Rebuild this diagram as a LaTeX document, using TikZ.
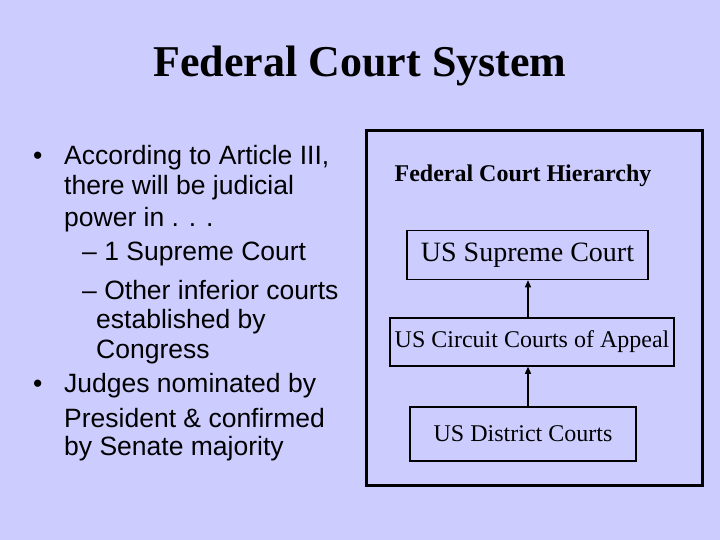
\documentclass[tikz,border=0pt]{standalone}
\usepackage{fontspec}
\setmainfont{Liberation Serif}
\newfontfamily\bodyfont{Liberation Sans}
\usetikzlibrary{arrows.meta}
\definecolor{bg}{RGB}{204,204,255}
\begin{document}
\begin{tikzpicture}[x=1pt,y=-1pt,
  court/.style={draw=black,line width=1.5pt,minimum height=49pt,inner sep=0pt},
  btxt/.style={anchor=west,inner sep=0pt,font=\bodyfont\fontsize{26.5}{26.5}\selectfont}]
\fill[bg] (0,0) rectangle (720,540);
\useasboundingbox (0,0) rectangle (720,540);
\node[font=\bfseries\fontsize{44}{44}\selectfont] (title) at (360,66) {Federal Court System};
\node[btxt] (b1) at (33,158) {•};
\node[btxt] (l1) at (64,158) {According to Article III,};
\node[btxt] (l2) at (64,188) {there will be judicial};
\node[btxt] (l3) at (64,220) {power in . . .};
\node[btxt] (l4) at (82,254) {– 1 Supreme Court};
\node[btxt] (l5) at (82,290) {– Other inferior courts};
\node[btxt] (l6) at (96,322) {established by};
\node[btxt] (l7) at (96,352) {Congress};
\node[btxt] (b2) at (33,386) {•};
\node[btxt] (l8) at (64,386) {Judges nominated by};
\node[btxt] (l9) at (64,418) {President \& confirmed};
\node[btxt] (l10) at (64,449) {by Senate majority};
\node[draw=black,line width=2.5pt,minimum width=336pt,minimum height=355pt] (frame) at (534.5,308) {};
\node[font=\bfseries\fontsize{24}{24}\selectfont] (head) at (523,176) {Federal Court Hierarchy};
\node[court,minimum width=241pt,font=\fontsize{28}{28}\selectfont] (sc) at (527.5,255) {US Supreme Court};
\node[court,minimum width=284pt,minimum height=48pt,font=\fontsize{24}{24}\selectfont] (ca) at (532,342) {US Circuit Courts of Appeal};
\node[court,minimum width=226pt,minimum height=54pt,font=\fontsize{24}{24}\selectfont] (dc) at (523,434) {US District Courts};
\draw[line width=1.2pt,-{Triangle[length=7pt,width=6pt]}] (dc.north -| 528,0) -- (ca.south -| 528,0);
\draw[line width=1.2pt,-{Triangle[length=7pt,width=6pt]}] (ca.north -| 528,0) -- (sc.south -| 528,0);
\end{tikzpicture}
\end{document}
